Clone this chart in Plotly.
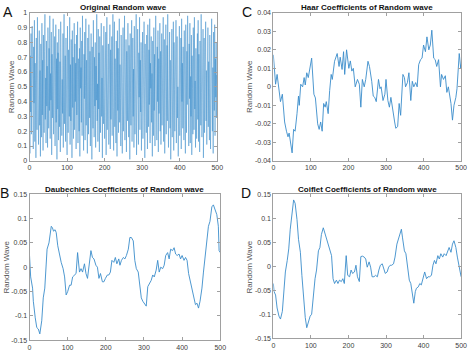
import plotly.graph_objects as go

W, H = 474, 354

# ---------------- data ----------------
wave = [
.62,.05,.71,.33,.86,.18,.54,.91,.27,.44,.08,.77,.39,.95,.13,.66,.49,.02,.83,.58,.21,.97,.36,.70,.11,
.45,.88,.24,.61,.03,.79,.52,.16,.93,.31,.68,.07,.85,.42,.19,.74,.99,.28,.56,.12,.81,.37,.64,.09,.90,
.47,.22,.76,.34,.98,.15,.59,.41,.87,.04,.72,.29,.53,.96,.18,.63,.38,.84,.10,.57,.92,.26,.69,.01,.80,
.35,.73,.14,.89,.50,.23,.67,.06,.94,.40,.78,.17,.55,.32,.86,.09,.62,.99,.25,.48,.71,.13,.83,.37,.60,
.04,.91,.43,.19,.75,.58,.30,.97,.11,.65,.27,.82,.46,.02,.88,.36,.70,.15,.53,.93,.21,.79,.40,.66,.08,
.85,.31,.57,.94,.12,.69,.44,.20,.76,.03,.90,.49,.63,.26,.81,.17,.98,.34,.59,.07,.72,.42,.87,.14,.51,
.96,.24,.68,.39,.05,.83,.55,.18,.92,.47,.29,.74,.10,.61,.86,.33,.01,.77,.45,.22,.95,.58,.16,.70,.37,
.80,.09,.64,.41,.99,.27,.52,.13,.89,.35,.73,.06,.84,.48,.19,.67,.93,.30,.56,.02,.78,.43,.25,.91,.60,
.15,.71,.38,.87,.04,.62,.97,.21,.54,.32,.79,.11,.66,.45,.92,.08,.75,.28,.50,.84,.17,.63,.99,.36,.07,
.58,.94,.23,.69,.40,.12,.81,.47,.03,.88,.34,.76,.19,.57,.96,.26,.65,.42,.10,.85,.31,.72,.05,.53,.90,
.20,.67,.44,.98,.14,.59,.35,.82,.06,.74,.51,.27,.93,.39,.16,.78,.60,.01,.86,.46,.24,.70,.95,.13,.55,
.83,.30,.62,.09,.91,.48,.18,.77,.37,.99,.04,.64,.25,.89,.52,.11,.73,.43,.97,.21,.68,.33,.80,.07,.56,
.41,.87,.15,.70,.28,.94,.50,.02,.79,.36,.61,.19,.85,.45,.08,.92,.54,.23,.75,.38,.96,.12,.66,.49,.84,
.26,.59,.03,.81,.47,.17,.90,.34,.72,.10,.63,.98,.29,.53,.14,.77,.40,.88,.06,.69,.32,.57,.93,.20,.74,
.11,.46,.86,.24,.65,.39,.97,.13,.58,.82,.05,.71,.35,.92,.18,.52,.78,.27,.99,.42,.09,.63,.37,.87,.22,
.68,.01,.76,.43,.89,.16,.55,.31,.94,.07,.80,.48,.20,.73,.36,.95,.12,.61,.84,.29,.50,.03,.70,.45,.91,
.17,.60,.34,.83,.08,.96,.40,.66,.22,.77,.51,.14,.88,.33,.59,.05,.92,.47,.19,.74,.38,.98,.26,.64,.10,
.79,.42,.93,.12,.57,.30,.85,.04,.71,.49,.18,.90,.62,.21,.97,.35,.54,.09,.76,.44,.15,.67,.86,.28,.95,
.13,.72,.39,.06,.81,.53,.24,.99,.46,.16,.65,.32,.89,.02,.58,.83,.19,.70,.41,.94,.27,.61,.11,.78,.48,
.90,.23,.67,.37,.14,.85,.50,.08,.75,.31,.96,.44,.20,.63,.05,.87,.56,.34,.92,.17,.69,.43,.80,.29,.58,
.52]
wave_x = list(range(len(wave)))

haar_x = [0,6,10,15,19,24,30,35,39,42,45,50,54,58,63,67,69,73,78,82,85,89,93,98,102,108,112,118,122,126,130,
          134,138,141,146,150,154,157,163,170,175,178,183,187,190,195,201,205,209,213,218,224,229,233,237,242,
          246,252,256,262,266,270,274,280,284,287,292,297,300,305,309,313,318,323,326,331,335,339,345,349,352,
          357,361,366,370,374,379,383,387,392,396,400,405,409,414,418,422,427,431,435,440,445,448,453,458,462,
          466,473,477,481,486,489,495,499,500]
haar_y = [0.0173,0.0014,0.0067,0.0,-0.008,-0.004,-0.019,-0.024,-0.027,-0.025,-0.03,-0.0357,-0.023,-0.024,-0.0145,
          -0.005,-0.01,0.0014,0.0,0.005,0.001,0.0076,0.005,0.012,0.0155,-0.004,-0.006,-0.02,-0.023,-0.019,-0.024,
          -0.009,-0.011,-0.008,-0.0145,-0.002,0.0067,0.004,0.0138,0.018,0.011,0.016,0.0094,0.019,0.0067,0.02,
          0.01,0.014,0.0085,0.01,0.0,0.004,0.0014,-0.011,0.004,0.0,0.004,0.0138,0.011,0.003,-0.005,-0.0057,
          -0.008,0.004,-0.001,0.0,-0.0074,-0.004,0.004,-0.0074,-0.011,-0.0057,-0.0136,-0.019,-0.0224,-0.0215,
          -0.009,-0.0154,0.0067,0.005,0.0,0.0023,0.0076,-0.0074,0.003,0.0,0.0023,0.0,0.012,0.0147,0.0155,0.0226,
          0.019,0.027,0.02,0.0226,0.0306,0.0155,0.0147,0.011,0.0147,0.0,0.0067,0.004,0.006,-0.003,0.0,-0.009,
          -0.018,-0.01,-0.0057,-0.001,0.018,0.01,0.012]

daub_x = [0,3,8,10,15,19,23,27,32,36,40,43,46,51,53,57,60,63,67,70,74,79,83,88,92,96,100,105,109,113,118,122,
          126,131,135,139,144,148,152,156,161,165,169,174,178,182,186,191,195,199,204,208,212,216,221,225,229,
          234,237,241,246,250,254,259,263,267,272,276,280,285,289,293,297,302,306,310,314,319,323,327,332,336,
          340,344,349,353,357,362,366,370,375,379,383,387,392,396,400,405,409,413,417,422,426,430,435,439,443,
          447,452,456,460,465,469,473,478,482,486,491,495,497,500]
daub_y = [0.024,-0.02,-0.043,-0.07,-0.104,-0.124,-0.127,-0.137,-0.11,-0.063,-0.043,-0.01,0.037,0.05,0.06,0.084,
          0.081,0.074,0.077,0.071,0.044,0.02,0.01,-0.003,-0.02,-0.057,-0.05,-0.037,-0.037,-0.02,-0.015,-0.013,
          0.03,-0.01,-0.003,-0.01,0.007,-0.013,-0.023,0.0,0.034,0.02,0.017,0.004,0.0,-0.023,-0.013,-0.03,-0.03,
          -0.023,-0.016,-0.016,-0.01,0.014,0.01,0.02,0.007,0.017,0.004,0.014,0.02,0.017,0.024,0.037,0.061,0.061,
          0.054,0.014,-0.003,-0.01,-0.037,-0.063,-0.07,-0.077,-0.08,-0.04,-0.033,-0.027,-0.016,-0.02,-0.006,0.014,
          -0.01,0.0,-0.003,0.004,0.024,0.03,0.017,0.037,0.034,0.04,0.027,0.024,0.027,0.017,0.024,0.014,0.02,0.014,
          -0.013,-0.03,-0.043,-0.057,-0.077,-0.074,-0.084,-0.07,-0.043,-0.01,0.024,0.057,0.084,0.094,0.124,0.128,
          0.118,0.108,0.084,0.034,0.03]

coif_x = [0,2,6,10,15,19,24,28,32,37,41,45,50,54,58,63,67,72,76,80,85,89,93,98,102,106,111,115,120,124,128,133,
          137,141,146,150,155,159,163,168,172,176,181,185,189,194,198,203,207,211,216,220,224,229,233,237,242,246,
          250,255,259,263,268,272,277,281,285,290,294,298,303,307,311,315,320,324,329,333,337,341,344,349,353,357,
          362,366,371,374,378,381,386,390,394,399,403,408,412,416,421,425,429,433,438,442,446,451,455,460,464,468,
          473,477,481,486,490,495,499,500]
coif_y = [-0.036,-0.053,-0.06,-0.087,-0.104,-0.11,-0.094,-0.06,-0.012,0.012,0.036,0.077,0.11,0.138,0.131,0.097,
          0.056,0.029,-0.019,-0.066,-0.107,-0.128,-0.117,-0.104,-0.1,-0.06,-0.026,-0.008,0.032,0.039,0.066,0.08,
          0.07,0.056,0.046,0.036,0.022,-0.026,-0.036,-0.029,-0.036,-0.029,-0.032,-0.026,-0.036,0.022,-0.019,-0.022,
          -0.008,-0.015,-0.012,0.002,-0.022,-0.032,0.02,0.021,0.019,0.015,-0.002,0.009,-0.002,-0.022,-0.022,-0.019,
          -0.022,-0.008,0.002,0.005,-0.005,-0.015,-0.012,-0.002,0.002,0.002,0.005,0.019,0.046,0.056,0.07,0.077,
          0.059,0.032,0.026,0.005,-0.029,-0.036,-0.063,-0.077,-0.053,-0.046,-0.043,-0.036,-0.039,-0.026,-0.012,
          -0.026,-0.022,-0.022,-0.019,0.002,0.012,0.005,0.022,0.015,0.026,0.019,0.026,0.022,0.032,0.039,0.029,
          0.046,0.053,0.039,0.019,-0.005,-0.022,-0.022]

x_ticks = [0, 100, 200, 300, 400, 500]
a_ticks = [0, 0.1, 0.2, 0.3, 0.4, 0.5, 0.6, 0.7, 0.8, 0.9, 1]
a_labels = ["0", "0.1", "0.2", "0.3", "0.4", "0.5", "0.6", "0.7", "0.8", "0.9", "1"]
c_ticks = [-0.04, -0.03, -0.02, -0.01, 0, 0.01, 0.02, 0.03, 0.04]
c_labels = ["-0.04", "-0.03", "-0.02", "-0.01", "0", "0.01", "0.02", "0.03", "0.04"]
bd_ticks = [-0.15, -0.1, -0.05, 0, 0.05, 0.1, 0.15]
bd_labels = ["-0.15", "-0.1", "-0.05", "0", "0.05", "0.1", "0.15"]

titles = ["Original Random wave", "Haar Coefficients of Random wave",
          "Daubechies Coefficients of Random wave", "Coiflet Coefficients of Random wave"]
letters = ["A", "C", "B", "D"]

# ---------------- layout helpers ----------------
def dx(px):
    return px / W

def dy(py):
    return 1 - py / H

# plot-area boxes in pixels: (left, right, top, bottom)
boxes = [(28, 219, 9, 160), (276, 467, 9, 160), (28, 222, 194, 343), (276, 467, 194, 341)]

LINE = "#3a8ccb"
AX = "#a0a0a0"
TXT = "#404040"
FONT = "Liberation Sans, Arial, sans-serif"

fig = go.Figure()
series = [(wave_x, wave, 0.5), (haar_x, haar_y, 0.9), (daub_x, daub_y, 0.9), (coif_x, coif_y, 0.9)]
yranges = [[0, 1], [-0.04, 0.04], [-0.15, 0.15], [-0.15, 0.15]]
yticks = [(a_ticks, a_labels), (c_ticks, c_labels), (bd_ticks, bd_labels), (bd_ticks, bd_labels)]

layout = dict(width=W, height=H, margin=dict(l=0, r=0, t=0, b=0),
              paper_bgcolor="white", plot_bgcolor="white", showlegend=False,
              font=dict(family=FONT, size=7, color=TXT))
annotations = []
for i, ((xs, ys, lw), (l, r, t, b)) in enumerate(zip(series, boxes)):
    n = "" if i == 0 else str(i + 1)
    fig.add_trace(go.Scatter(x=xs, y=ys, mode="lines", line=dict(color=LINE, width=lw),
                             xaxis="x" + n, yaxis="y" + n, hoverinfo="skip"))
    common = dict(showline=True, linecolor=AX, linewidth=1, mirror="allticks", ticks="inside",
                  ticklen=3, tickcolor=AX, showgrid=False, zeroline=False,
                  tickfont=dict(family=FONT, size=7, color=TXT))
    layout["xaxis" + n] = dict(domain=[dx(l), dx(r)], range=[0, 500], tickvals=x_ticks,
                               anchor="y" + n, **common)
    layout["yaxis" + n] = dict(domain=[dy(b), dy(t)], range=yranges[i], tickvals=yticks[i][0],
                               ticktext=yticks[i][1], anchor="x" + n, **common)
    annotations.append(dict(text="<b>" + titles[i] + "</b>", x=dx((l + r) / 2), y=dy(t - 5),
                            xref="paper", yref="paper", showarrow=False, xanchor="center",
                            yanchor="middle", font=dict(family=FONT, size=8, color="#111")))

# y-axis titles
ylab_x = [10, 252, 5, 252]
ylab_y = [84, 84, 268, 268]
for i in range(4):
    annotations.append(dict(text="Random Wave", x=dx(ylab_x[i]), y=dy(ylab_y[i]), xref="paper",
                            yref="paper", showarrow=False, textangle=-90, xanchor="center",
                            yanchor="middle", font=dict(family=FONT, size=8, color="#555")))

# panel letters
let_pos = [(6, 8), (249, 8), (3, 193), (248, 193)]
for i in range(4):
    annotations.append(dict(text=letters[i], x=dx(let_pos[i][0]), y=dy(let_pos[i][1]), xref="paper",
                            yref="paper", showarrow=False, xanchor="center", yanchor="middle",
                            font=dict(family=FONT, size=14, color="#111")))

layout["annotations"] = annotations
fig.update_layout(**layout)
fig.write_html("out.html")
